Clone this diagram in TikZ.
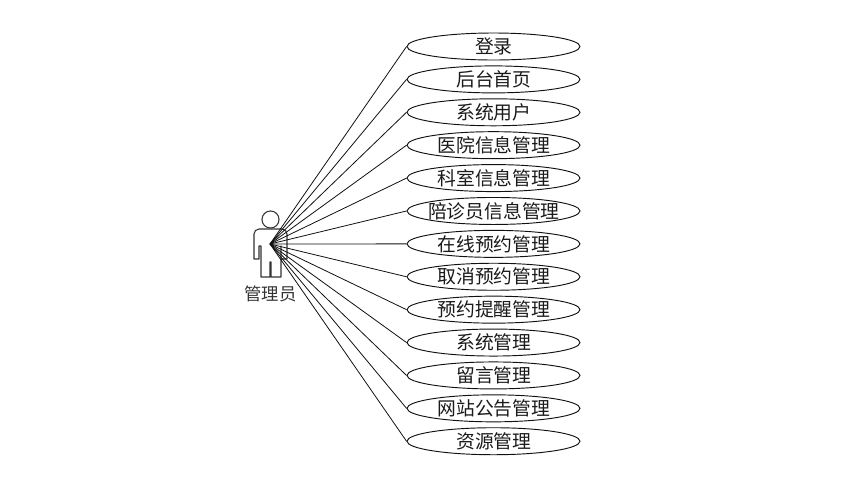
\documentclass[tikz,border=0pt]{standalone}
\usepackage{fontspec}
\usetikzlibrary{shapes.geometric, positioning}
\setmainfont{Noto Sans CJK SC}
\definecolor{ActorLine}{HTML}{333333}
\definecolor{CaseLine}{HTML}{111111}
\definecolor{TextDark}{HTML}{1A1A1A}
\newcommand{\casetext}[1]{\raisebox{-.38em}[0pt][0pt]{\makebox[0pt]{\hspace{0.6pt}#1}}}
\begin{document}
\begin{tikzpicture}[
        x=0.75pt, y=-0.75pt,
        node distance=3.72pt,
        usecase/.style={ellipse, draw=CaseLine, fill=white, line width=0.7pt, inner sep=0pt, minimum width=129.75pt, minimum height=20.25pt, font=\fontsize{14.1}{14}\selectfont, text=TextDark},
        actorline/.style={draw=ActorLine, line width=0.8pt, line join=round},
        link/.style={draw=CaseLine, line width=0.6pt}
      ]
        \useasboundingbox (0,0) rectangle (854,487);

        % Use cases
        \node[usecase] (login) at (493.5,46.5) {\casetext{登录}};
        \node[usecase, below=of login] (home) {\casetext{后台首页}};
        \node[usecase, below=of home] (sysuser) {\casetext{系统用户}};
        \node[usecase, below=of sysuser] (hospital) {\casetext{医院信息管理}};
        \node[usecase, below=of hospital] (dept) {\casetext{科室信息管理}};
        \node[usecase, below=of dept] (escort) {\casetext{陪诊员信息管理}};
        \node[usecase, below=of escort] (booking) {\casetext{在线预约管理}};
        \node[usecase, below=of booking] (cancel) {\casetext{取消预约管理}};
        \node[usecase, below=of cancel] (remind) {\casetext{预约提醒管理}};
        \node[usecase, below=of remind] (sysadmin) {\casetext{系统管理}};
        \node[usecase, below=of sysadmin] (message) {\casetext{留言管理}};
        \node[usecase, below=of message] (notice) {\casetext{网站公告管理}};
        \node[usecase, below=of notice] (resource) {\casetext{资源管理}};

        % Actor
        \node[circle, actorline, fill=white, minimum size=12.8pt, inner sep=0pt] (head) at (270.5,219.5) {};
        \draw[actorline, fill=white] (259,246) -- (259,259) -- (254,259) -- (254,234) to[out=90, in=180] (259,229) -- (282,229) to[out=0, in=90] (287,234) -- (287,259) -- (281,259) -- (281,246) -- (281,277) -- (271,277) -- (271,262) -- (270,262) -- (270,277) -- (261,277) -- (261,246) -- cycle;
        \coordinate (hub) at (270,244);
        \node[text=ActorLine, font=\fontsize{13}{13}\selectfont] (admin) at (270.5,294) {管理员};

        % Connections
        \draw[link] (hub) -- (login.west);
        \draw[link] (hub) -- (home.west);
        \draw[link] (hub) -- (sysuser.west);
        \draw[link] (hub) -- (hospital.west);
        \draw[link] (hub) -- (dept.west);
        \draw[link] (hub) -- (escort.west);
        \draw[link] (hub) -- (booking.west);
        \draw[link] (hub) -- (cancel.west);
        \draw[link] (hub) -- (remind.west);
        \draw[link] (hub) -- (sysadmin.west);
        \draw[link] (hub) -- (message.west);
        \draw[link] (hub) -- (notice.west);
        \draw[link] (hub) -- (resource.west);
      \end{tikzpicture}
\end{document}
